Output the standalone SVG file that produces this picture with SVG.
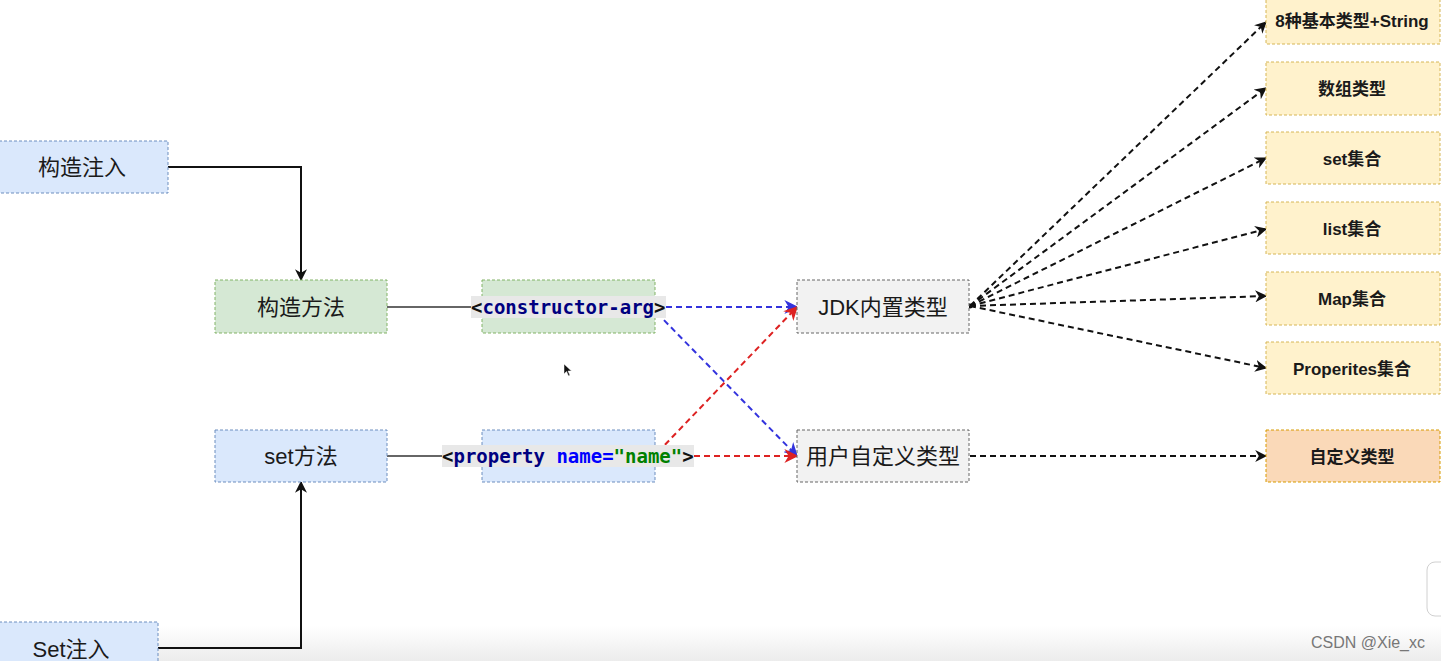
<svg xmlns="http://www.w3.org/2000/svg" width="1441" height="661" viewBox="0 0 1441 661">
<style>
.box{stroke-width:1;stroke-dasharray:3 2}
.blue{fill:#dae8fc;stroke:#6c8ebf}
.green{fill:#d5e8d4;stroke:#82b366}
.gray{fill:#f2f2f2;stroke:#666666}
.yellow{fill:#fff2cc;stroke:#d6b656}
.orange{fill:#fad9b8;stroke:#d79b00}
.t{font-family:"Liberation Sans","Noto Sans CJK SC",sans-serif;fill:#1a1a1a;text-anchor:middle;dominant-baseline:central}
.big{font-size:22px}
.small{font-size:17px;font-weight:bold}
.mono{font-family:"DejaVu Sans Mono","Liberation Mono",monospace;font-size:19px;font-weight:bold;dominant-baseline:central}
.solid{fill:none;stroke:#111;stroke-width:2}
.thin{fill:none;stroke:#333;stroke-width:1.5}
.dash{fill:none;stroke:#111;stroke-width:2;stroke-dasharray:6 4}
.bdash{fill:none;stroke:#3333dd;stroke-width:2;stroke-dasharray:6 4}
.rdash{fill:none;stroke:#dd2222;stroke-width:2;stroke-dasharray:6 4}
</style>
<defs>
<marker id="ab" viewBox="0 0 10 10" refX="9" refY="5" markerWidth="7" markerHeight="7" orient="auto" markerUnits="userSpaceOnUse"><path d="M0,0 L10,5 L0,10 L3,5 z" fill="#111"/></marker>
<marker id="abig" viewBox="0 0 10 10" refX="9" refY="5" markerWidth="12" markerHeight="12" orient="auto" markerUnits="userSpaceOnUse"><path d="M0,0 L10,5 L0,10 L3,5 z" fill="#111"/></marker>
<marker id="abl" viewBox="0 0 10 10" refX="9" refY="5" markerWidth="14" markerHeight="14" orient="auto" markerUnits="userSpaceOnUse"><path d="M0,0 L10,5 L0,10 L3,5 z" fill="#3333dd"/></marker>
<marker id="ar" viewBox="0 0 10 10" refX="9" refY="5" markerWidth="14" markerHeight="14" orient="auto" markerUnits="userSpaceOnUse"><path d="M0,0 L10,5 L0,10 L3,5 z" fill="#dd2222"/></marker>
<linearGradient id="bar" x1="0" y1="0" x2="0" y2="1"><stop offset="0" stop-color="#ffffff"/><stop offset="1" stop-color="#ececec"/></linearGradient>
</defs>
<rect x="0" y="0" width="1441" height="661" fill="#ffffff"/>
<rect x="0" y="626" width="1441" height="35" fill="url(#bar)"/>

<g id="connectors">
<path class="solid" d="M168,167 H301 V280" marker-end="url(#abig)"/>
<path class="solid" d="M158,648 H301 V482" marker-end="url(#abig)"/>
<path class="thin" d="M387,307 H472"/>
<path class="thin" d="M387,456 H443"/>
<path class="bdash" d="M666,307 H797" marker-end="url(#abl)"/>
<path class="bdash" d="M657,313 L797,456" marker-end="url(#abl)"/>
<path class="rdash" d="M658,452 L797,307" marker-end="url(#ar)"/>
<path class="rdash" d="M694,456 H797" marker-end="url(#ar)"/>
<circle cx="970" cy="306" r="2.5" fill="#111"/>
<path class="dash" d="M970,306 L1266,22" marker-end="url(#abig)"/>
<path class="dash" d="M970,306 L1266,88" marker-end="url(#abig)"/>
<path class="dash" d="M970,306 L1266,158" marker-end="url(#abig)"/>
<path class="dash" d="M970,306 L1266,229" marker-end="url(#abig)"/>
<path class="dash" d="M970,306 L1266,296" marker-end="url(#abig)"/>
<path class="dash" d="M970,306 L1266,368" marker-end="url(#abig)"/>
<path class="dash" d="M970,456 H1266" marker-end="url(#abig)"/>
</g>

<g id="n-gouzaozhuru"><rect class="box blue" x="-1" y="141" width="169" height="52"/><text class="t big" x="82" y="167">构造注入</text></g>
<g id="n-gouzaofangfa"><rect class="box green" x="215" y="280" width="172" height="53"/><text class="t big" x="301" y="307">构造方法</text></g>
<g id="n-constructorarg"><rect class="box green" x="482" y="280" width="173" height="53"/><rect x="471" y="296" width="195" height="22" fill="#e8e8e8"/><text class="mono" x="471" y="307"><tspan fill="#111">&lt;</tspan><tspan fill="#000080">constructor-arg</tspan><tspan fill="#111">&gt;</tspan></text></g>
<g id="n-jdk"><rect class="box gray" x="797" y="280" width="172" height="53"/><text class="t big" x="883" y="307" fill="#333">JDK内置类型</text></g>
<g id="n-setfangfa"><rect class="box blue" x="215" y="430" width="172" height="52"/><text class="t big" x="301" y="456">set方法</text></g>
<g id="n-property"><rect class="box blue" x="482" y="430" width="173" height="52"/><rect x="442" y="445" width="252" height="22" fill="#e8e8e8"/><text class="mono" x="442" y="456"><tspan fill="#111">&lt;</tspan><tspan fill="#000080">property</tspan><tspan fill="#0000ff"> name=</tspan><tspan fill="#008000">"name"</tspan><tspan fill="#111">&gt;</tspan></text></g>
<g id="n-user"><rect class="box gray" x="797" y="430" width="172" height="52"/><text class="t big" x="883" y="456" fill="#333">用户自定义类型</text></g>
<g id="n-setzhuru"><rect class="box blue" x="-1" y="622" width="159" height="45"/><text class="t big" x="71" y="649">Set注入</text></g>

<g id="n-basic"><rect class="box yellow" x="1266" y="-2" width="174" height="46"/><text class="t small" x="1352" y="21">8种基本类型+String</text></g>
<g id="n-array"><rect class="box yellow" x="1266" y="62" width="174" height="53"/><text class="t small" x="1352" y="89">数组类型</text></g>
<g id="n-set"><rect class="box yellow" x="1266" y="132" width="174" height="52"/><text class="t small" x="1352" y="159">set集合</text></g>
<g id="n-list"><rect class="box yellow" x="1266" y="202" width="174" height="52"/><text class="t small" x="1352" y="229">list集合</text></g>
<g id="n-map"><rect class="box yellow" x="1266" y="272" width="174" height="53"/><text class="t small" x="1352" y="299">Map集合</text></g>
<g id="n-prop"><rect class="box yellow" x="1266" y="342" width="174" height="52"/><text class="t small" x="1352" y="369">Properites集合</text></g>
<g id="n-custom"><rect class="box orange" x="1266" y="430" width="174" height="52"/><text class="t small" x="1352" y="457">自定义类型</text></g>

<path d="M564,364 L564,374 L566.5,371.5 L568.5,376 L570,375.3 L568,371 L571.5,371 Z" fill="#111" stroke="#fff" stroke-width="0.5"/>
<rect x="1427" y="562" width="24" height="54" rx="8" fill="#ffffff" stroke="#d0d0d0"/>
<text x="1425" y="642" font-family="Liberation Sans, sans-serif" font-size="16" fill="#777" text-anchor="end" dominant-baseline="central">CSDN @Xie_xc</text>
</svg>
